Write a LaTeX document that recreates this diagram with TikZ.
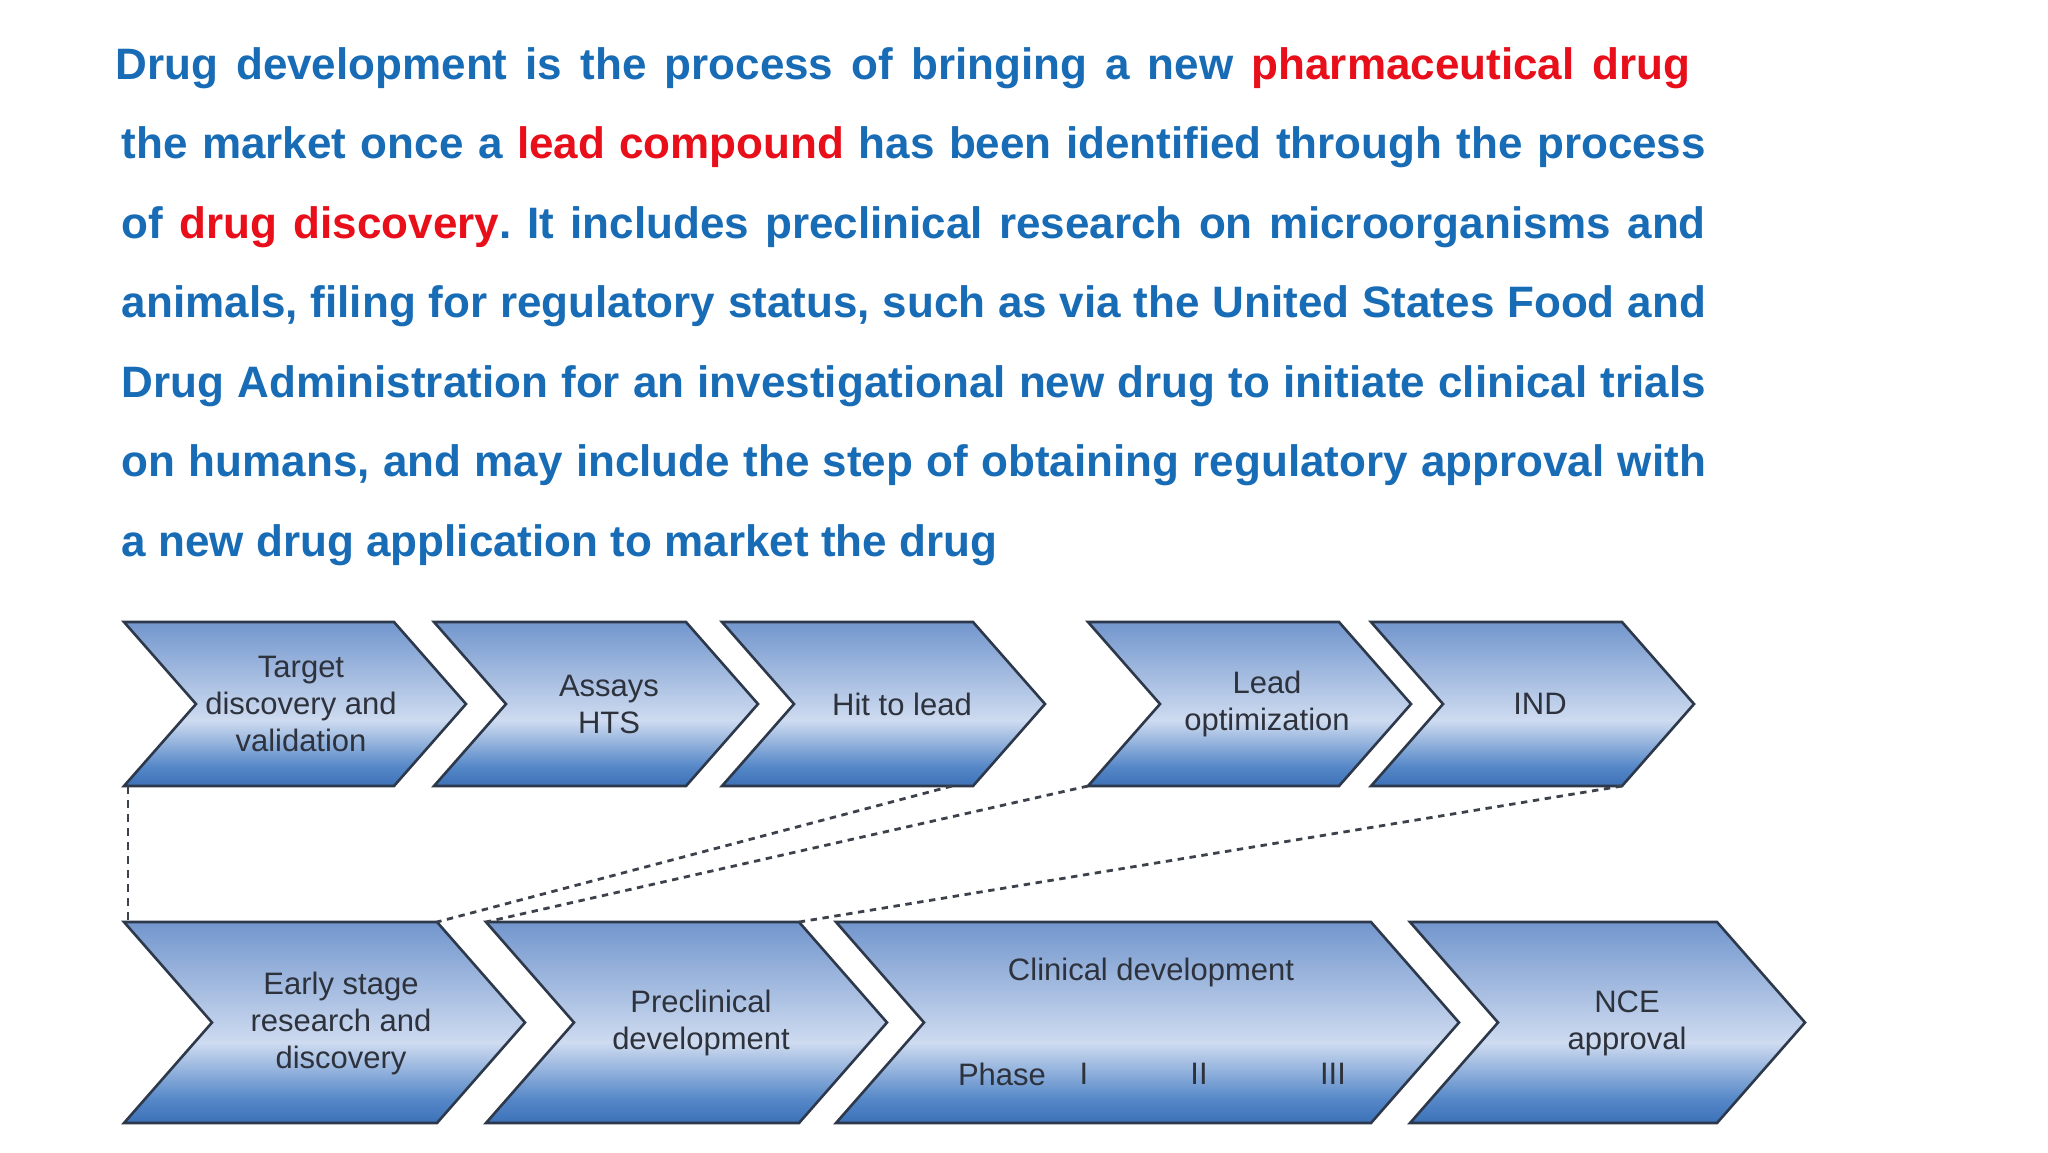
\documentclass[tikz,border=0pt]{standalone}
\usepackage{fontspec}
\setmainfont{Liberation Sans}
\usetikzlibrary{calc}
\frenchspacing
\definecolor{txtblue}{RGB}{24,108,182}
\definecolor{txtred}{RGB}{232,14,26}
\definecolor{chevtop}{RGB}{114,150,205}
\definecolor{chevlight}{RGB}{206,219,240}
\definecolor{chevlow}{RGB}{86,136,200}
\definecolor{chevbot}{RGB}{60,113,184}
\definecolor{chevedge}{RGB}{45,56,74}
\definecolor{chevtext}{RGB}{45,50,60}
\definecolor{dotline}{RGB}{60,65,75}
\pgfdeclareverticalshading{chevshade}{100bp}{color(0bp)=(chevbot); color(25bp)=(chevbot); color(31bp)=(chevlow); color(45bp)=(chevlight); color(75bp)=(chevtop); color(100bp)=(chevtop)}
\newcommand{\mychev}[6]{%
  \path[chevstyle] (#2,#4) -- (#3,#4) -- ({#3+#6},{(#4+#5)/2}) -- (#3,#5) -- (#2,#5) -- ({#2+#6},{(#4+#5)/2}) -- cycle;
  \coordinate (#1-tl) at (#2,#4);
  \coordinate (#1-tr) at (#3,#4);
  \coordinate (#1-bl) at (#2,#5);
  \coordinate (#1-br) at (#3,#5);
}
\tikzset{
  chevstyle/.style={shade, shading=chevshade, draw=chevedge, line width=1.3pt, line join=miter},
  chevlabel/.style={align=center, inner sep=0pt, text=chevtext, font=\fontsize{15.5}{18.5}\selectfont},
  para/.style={anchor=base west, inner sep=0pt, text=txtblue, font=\fontsize{22}{26}\selectfont\bfseries},
  dotconn/.style={draw=dotline, line width=1.4pt, dash pattern=on 3.2pt off 2.8pt},
  dashconn/.style={draw=dotline, line width=1.2pt, dash pattern=on 4pt off 3pt}
}
\newcommand{\rd}[1]{\textcolor{txtred}{#1}}
\begin{document}
\begin{tikzpicture}[x=0.5pt, y=-0.5pt]
\useasboundingbox (0,0) rectangle (2048,1152);
\fill[white] (0,0) rectangle (2048,1152);

% paragraph
\node[para] (p1) at (115,79) {\makebox[787.5pt][s]{Drug development is the process of bringing a new \rd{pharmaceutical drug}}};
\node[para] (p2) at (121.5,158.5) {\makebox[792pt][s]{the market once a \rd{lead compound} has been identified through the process}};
\node[para] (p3) at (121.5,238) {\makebox[792pt][s]{of \rd{drug discovery}. It includes preclinical research on microorganisms and}};
\node[para] (p4) at (121.5,317.5) {\makebox[792pt][s]{animals, filing for regulatory status, such as via the United States Food and}};
\node[para] (p5) at (121.5,397) {\makebox[792pt][s]{Drug Administration for an investigational new drug to initiate clinical trials}};
\node[para] (p6) at (121.5,476.5) {\makebox[792pt][s]{on humans, and may include the step of obtaining regulatory approval with}};
\node[para] (p7) at (121.5,556) {a new drug application to market the drug};

% top row chevrons
\mychev{T1}{124}{394}{622}{786}{72}
\mychev{T2}{434}{686}{622}{786}{72}
\mychev{T3}{722}{973}{622}{786}{72}
\mychev{T4}{1088}{1339}{622}{786}{72}
\mychev{T5}{1371}{1622}{622}{786}{72}

% bottom row chevrons
\mychev{B1}{124}{437}{922}{1123}{88}
\mychev{B2}{486}{799}{922}{1123}{88}
\mychev{B3}{836}{1371}{922}{1123}{88}
\mychev{B4}{1410}{1717}{922}{1123}{88}

% labels
\node[chevlabel] (t1) at (301,704) {Target\\discovery and\\validation};
\node[chevlabel] (t2) at (609,704) {Assays\\HTS};
\node[chevlabel] (t3) at (902,704) {Hit to lead};
\node[chevlabel] (t4) at (1267,704) {Lead\\optimization};
\node[chevlabel] (t5) at (1540,704) {IND};
\node[chevlabel] (b1) at (341,1023) {Early stage\\research and\\discovery};
\node[chevlabel] (b2) at (701,1023) {Preclinical\\development};
\node[chevlabel] (b3) at (1151,972) {Clinical development};
\node[chevlabel] (b3p) at (1002,1074) {Phase};
\node[chevlabel] (b3i) at (1084,1074) {I};
\node[chevlabel] (b3ii) at (1199,1074) {II};
\node[chevlabel] (b3iii) at (1333,1074) {III};
\node[chevlabel] (b4) at (1627,1023) {NCE\\approval};

% connectors
\draw[dashconn] ($(T1-bl)+(4,0)$) -- ($(B1-tl)+(4,0)$);
\draw[dotconn] ($(T3-br)+(-21,0)$) -- (B1-tr);
\draw[dotconn] (T4-bl) -- (B2-tl);
\draw[dotconn] (T5-br) -- (B2-tr);
\end{tikzpicture}
\end{document}
